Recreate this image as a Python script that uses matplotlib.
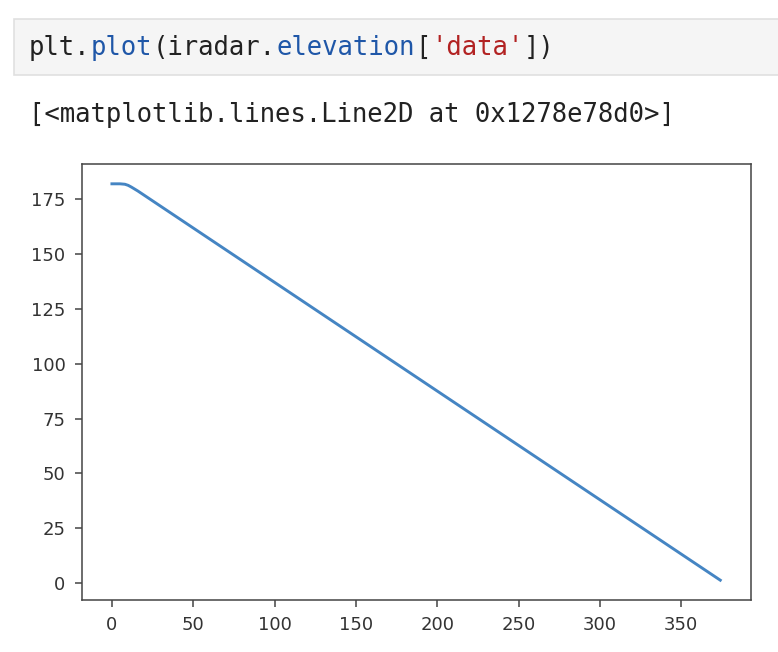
import matplotlib
matplotlib.use("Agg")
import matplotlib.pyplot as plt
from matplotlib.patches import Rectangle

# Data (index -> elevation)
sample_index = [0, 5, 8, 10, 12, 14, 16, 374]
elevation = [182.0, 182.0, 181.8, 181.3, 180.5, 179.6, 178.7, 1.3]

x_ticks = [0, 50, 100, 150, 200, 250, 300, 350]
y_ticks = [0, 25, 50, 75, 100, 125, 150, 175]

code_segments = [("plt.", "#222222"), ("plot", "#1f57a8"), ("(iradar.", "#222222"),
                 ("elevation", "#1f57a8"), ("[", "#222222"), ("'data'", "#b22222"),
                 ("])", "#222222")]
output_text = "[<matplotlib.lines.Line2D at 0x1278e78d0>]"

W, H = 778, 652
fig = plt.figure(figsize=(W / 100, H / 100), dpi=100)
fig.patch.set_facecolor("white")

def px(x, y):
    return x / W, 1 - y / H

# code cell box
box = Rectangle(px(14, 75), (W - 14 + 5) / W, (75 - 19) / H, transform=fig.transFigure,
                facecolor="#f5f5f5", edgecolor="#e0e0e0", linewidth=1.2, zorder=0)
fig.patches.append(box)

adv = 15.46
mono = "DejaVu Sans Mono"
fs = adv / 0.602 * 0.72
col = 0
for seg, c in code_segments:
    fig.text(*px(29 + col * adv, 55), seg, fontsize=fs, family=mono, color=c,
             ha="left", va="baseline")
    col += len(seg)

fig.text(*px(29, 122), output_text, fontsize=fs, family=mono, color="#222222",
         ha="left", va="baseline")

# axes
left, right, top, bottom = 81.5, 750.7, 164, 600
ax = fig.add_axes([left / W, 1 - bottom / H, (right - left) / W, (bottom - top) / H])
ax.plot(sample_index, elevation, color="#4585c3", linewidth=2.1)
ax.set_xticks(x_ticks)
ax.set_yticks(y_ticks)
ax.tick_params(labelsize=13.0, labelcolor="#333333", length=5, width=1.1, pad=6.5,
               color="#444444")
for s in ax.spines.values():
    s.set_linewidth(1.1)
    s.set_color("#444444")

fig.savefig("out.png", dpi=100)
